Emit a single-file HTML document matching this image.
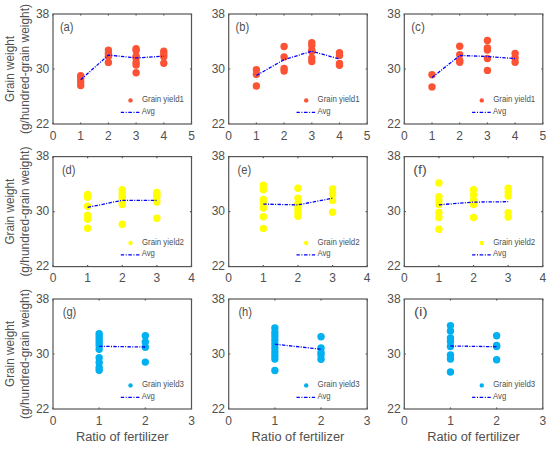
<!DOCTYPE html>
<html><head><meta charset="utf-8"><style>
html,body{margin:0;padding:0;background:#fff;width:550px;height:450px;overflow:hidden}
svg{display:block}
text{font-family:"Liberation Sans",sans-serif}
</style></head><body>
<svg width="550" height="450" viewBox="0 0 550 450">
<rect width="550" height="450" fill="#fff"/>

<text transform="translate(14.2,69) rotate(-90)" text-anchor="middle" font-size="12" fill="#505050" textLength="66" lengthAdjust="spacingAndGlyphs">Grain weight</text>
<text transform="translate(29.3,69) rotate(-90)" text-anchor="middle" font-size="12" fill="#505050" textLength="130" lengthAdjust="spacingAndGlyphs">(g/hundred-grain weight)</text>
<g fill="#FD5335"><circle cx="80.7" cy="75.8" r="3.7"/><circle cx="80.7" cy="78.5" r="3.7"/><circle cx="80.7" cy="82" r="3.7"/><circle cx="80.7" cy="85.5" r="3.7"/><circle cx="108.4" cy="50.1" r="3.7"/><circle cx="108.4" cy="53.5" r="3.7"/><circle cx="108.4" cy="56.3" r="3.7"/><circle cx="108.4" cy="62.4" r="3.7"/><circle cx="136.1" cy="48.6" r="3.7"/><circle cx="136.1" cy="50.5" r="3.7"/><circle cx="136.1" cy="56.3" r="3.7"/><circle cx="136.1" cy="58" r="3.7"/><circle cx="136.1" cy="62.5" r="3.7"/><circle cx="136.1" cy="65" r="3.7"/><circle cx="136.1" cy="72.8" r="3.7"/><circle cx="163.8" cy="51.2" r="3.7"/><circle cx="163.8" cy="54" r="3.7"/><circle cx="163.8" cy="56.8" r="3.7"/><circle cx="163.8" cy="63.3" r="3.7"/></g>
<polyline points="80.7,79.8 108.4,55.1 136.1,57.9 163.8,56.2" fill="none" stroke="#0000FF" stroke-width="1.3" stroke-dasharray="3.4 1.3 1 1.4"/>
<rect x="53" y="14" width="138.5" height="110" fill="none" stroke="#555555" stroke-width="1.2"/>
<path d="M53 124v-1.6M53 14v1.6M80.7 124v-1.6M80.7 14v1.6M108.4 124v-1.6M108.4 14v1.6M136.1 124v-1.6M136.1 14v1.6M163.8 124v-1.6M163.8 14v1.6M191.5 124v-1.6M191.5 14v1.6M53 69h1.6M191.5 69h-1.6" stroke="#555555" stroke-width="1.2" fill="none"/>
<g font-size="12" fill="#505050"><text x="53" y="140.1" text-anchor="middle">0</text><text x="80.7" y="140.1" text-anchor="middle">1</text><text x="108.4" y="140.1" text-anchor="middle">2</text><text x="136.1" y="140.1" text-anchor="middle">3</text><text x="163.8" y="140.1" text-anchor="middle">4</text><text x="191.5" y="140.1" text-anchor="middle">5</text><text x="49.3" y="18.3" text-anchor="end">38</text><text x="49.3" y="73.3" text-anchor="end">30</text><text x="49.3" y="128.3" text-anchor="end">22</text></g>
<text x="59.9" y="31.2" font-size="12" textLength="13.6" lengthAdjust="spacingAndGlyphs" fill="#505050">(a)</text>
<circle cx="130.5" cy="100.4" r="2.2" fill="#FD5335"/>
<text x="141.9" y="102.1" font-size="9.5" fill="#505050" textLength="42" lengthAdjust="spacingAndGlyphs">Grain yield1</text>
<line x1="120.8" y1="112.3" x2="139.4" y2="112.3" stroke="#0000FF" stroke-width="1.3" stroke-dasharray="3.3 1.6 1 1.6 3.6 1.6 1 1.6 3.3 5"/>
<text x="141.7" y="113.8" font-size="9.5" fill="#505050" textLength="13.2" lengthAdjust="spacingAndGlyphs">Avg</text>
<g fill="#FD5335"><circle cx="256.4" cy="69.8" r="3.7"/><circle cx="256.4" cy="74.3" r="3.7"/><circle cx="256.4" cy="86" r="3.7"/><circle cx="284.1" cy="46.5" r="3.7"/><circle cx="284.1" cy="56.9" r="3.7"/><circle cx="284.1" cy="68.5" r="3.7"/><circle cx="284.1" cy="71" r="3.7"/><circle cx="311.8" cy="42.6" r="3.7"/><circle cx="311.8" cy="45.5" r="3.7"/><circle cx="311.8" cy="50" r="3.7"/><circle cx="311.8" cy="51.5" r="3.7"/><circle cx="311.8" cy="58" r="3.7"/><circle cx="311.8" cy="61.6" r="3.7"/><circle cx="339.5" cy="52.6" r="3.7"/><circle cx="339.5" cy="55.4" r="3.7"/><circle cx="339.5" cy="63.5" r="3.7"/><circle cx="339.5" cy="65.2" r="3.7"/></g>
<polyline points="256.4,75.5 284.1,59.6 311.8,51.2 339.5,59" fill="none" stroke="#0000FF" stroke-width="1.3" stroke-dasharray="3.4 1.3 1 1.4"/>
<rect x="228.7" y="14" width="138.5" height="110" fill="none" stroke="#555555" stroke-width="1.2"/>
<path d="M228.7 124v-1.6M228.7 14v1.6M256.4 124v-1.6M256.4 14v1.6M284.1 124v-1.6M284.1 14v1.6M311.8 124v-1.6M311.8 14v1.6M339.5 124v-1.6M339.5 14v1.6M367.2 124v-1.6M367.2 14v1.6M228.7 69h1.6M367.2 69h-1.6" stroke="#555555" stroke-width="1.2" fill="none"/>
<g font-size="12" fill="#505050"><text x="228.7" y="140.1" text-anchor="middle">0</text><text x="256.4" y="140.1" text-anchor="middle">1</text><text x="284.1" y="140.1" text-anchor="middle">2</text><text x="311.8" y="140.1" text-anchor="middle">3</text><text x="339.5" y="140.1" text-anchor="middle">4</text><text x="367.2" y="140.1" text-anchor="middle">5</text><text x="225" y="18.3" text-anchor="end">38</text><text x="225" y="73.3" text-anchor="end">30</text><text x="225" y="128.3" text-anchor="end">22</text></g>
<text x="235.6" y="31.2" font-size="12" textLength="13.6" lengthAdjust="spacingAndGlyphs" fill="#505050">(b)</text>
<circle cx="306.2" cy="100.4" r="2.2" fill="#FD5335"/>
<text x="317.6" y="102.1" font-size="9.5" fill="#505050" textLength="42" lengthAdjust="spacingAndGlyphs">Grain yield1</text>
<line x1="296.5" y1="112.3" x2="315.1" y2="112.3" stroke="#0000FF" stroke-width="1.3" stroke-dasharray="3.3 1.6 1 1.6 3.6 1.6 1 1.6 3.3 5"/>
<text x="317.4" y="113.8" font-size="9.5" fill="#505050" textLength="13.2" lengthAdjust="spacingAndGlyphs">Avg</text>
<g fill="#FD5335"><circle cx="432" cy="74.8" r="3.7"/><circle cx="432" cy="86.9" r="3.7"/><circle cx="459.7" cy="46.2" r="3.7"/><circle cx="459.7" cy="54.6" r="3.7"/><circle cx="459.7" cy="60.5" r="3.7"/><circle cx="459.7" cy="62.2" r="3.7"/><circle cx="487.4" cy="40.5" r="3.7"/><circle cx="487.4" cy="48" r="3.7"/><circle cx="487.4" cy="50.1" r="3.7"/><circle cx="487.4" cy="58.5" r="3.7"/><circle cx="487.4" cy="70.4" r="3.7"/><circle cx="515.1" cy="53.5" r="3.7"/><circle cx="515.1" cy="58" r="3.7"/><circle cx="515.1" cy="62.3" r="3.7"/></g>
<polyline points="432,77.6 459.7,55.5 487.4,56.5 515.1,58.6" fill="none" stroke="#0000FF" stroke-width="1.3" stroke-dasharray="3.4 1.3 1 1.4"/>
<rect x="404.3" y="14" width="138.5" height="110" fill="none" stroke="#555555" stroke-width="1.2"/>
<path d="M404.3 124v-1.6M404.3 14v1.6M432 124v-1.6M432 14v1.6M459.7 124v-1.6M459.7 14v1.6M487.4 124v-1.6M487.4 14v1.6M515.1 124v-1.6M515.1 14v1.6M542.8 124v-1.6M542.8 14v1.6M404.3 69h1.6M542.8 69h-1.6" stroke="#555555" stroke-width="1.2" fill="none"/>
<g font-size="12" fill="#505050"><text x="404.3" y="140.1" text-anchor="middle">0</text><text x="432" y="140.1" text-anchor="middle">1</text><text x="459.7" y="140.1" text-anchor="middle">2</text><text x="487.4" y="140.1" text-anchor="middle">3</text><text x="515.1" y="140.1" text-anchor="middle">4</text><text x="542.8" y="140.1" text-anchor="middle">5</text><text x="400.6" y="18.3" text-anchor="end">38</text><text x="400.6" y="73.3" text-anchor="end">30</text><text x="400.6" y="128.3" text-anchor="end">22</text></g>
<text x="411.2" y="31.2" font-size="12" textLength="13.6" lengthAdjust="spacingAndGlyphs" fill="#505050">(c)</text>
<circle cx="481.8" cy="100.4" r="2.2" fill="#FD5335"/>
<text x="493.2" y="102.1" font-size="9.5" fill="#505050" textLength="42" lengthAdjust="spacingAndGlyphs">Grain yield1</text>
<line x1="472.1" y1="112.3" x2="490.7" y2="112.3" stroke="#0000FF" stroke-width="1.3" stroke-dasharray="3.3 1.6 1 1.6 3.6 1.6 1 1.6 3.3 5"/>
<text x="493" y="113.8" font-size="9.5" fill="#505050" textLength="13.2" lengthAdjust="spacingAndGlyphs">Avg</text>
<text transform="translate(14.2,211.6) rotate(-90)" text-anchor="middle" font-size="12" fill="#505050" textLength="66" lengthAdjust="spacingAndGlyphs">Grain weight</text>
<text transform="translate(29.3,211.6) rotate(-90)" text-anchor="middle" font-size="12" fill="#505050" textLength="130" lengthAdjust="spacingAndGlyphs">(g/hundred-grain weight)</text>
<g fill="#FFFF00"><circle cx="87.62" cy="194.5" r="3.7"/><circle cx="87.62" cy="197.2" r="3.7"/><circle cx="87.62" cy="206.3" r="3.7"/><circle cx="87.62" cy="215.2" r="3.7"/><circle cx="87.62" cy="219.2" r="3.7"/><circle cx="87.62" cy="228.2" r="3.7"/><circle cx="122.25" cy="189.6" r="3.7"/><circle cx="122.25" cy="192.5" r="3.7"/><circle cx="122.25" cy="195.8" r="3.7"/><circle cx="122.25" cy="199" r="3.7"/><circle cx="122.25" cy="201.5" r="3.7"/><circle cx="122.25" cy="204.6" r="3.7"/><circle cx="122.25" cy="224.3" r="3.7"/><circle cx="156.88" cy="192.4" r="3.7"/><circle cx="156.88" cy="195" r="3.7"/><circle cx="156.88" cy="197.5" r="3.7"/><circle cx="156.88" cy="202" r="3.7"/><circle cx="156.88" cy="218.2" r="3.7"/></g>
<polyline points="87.62,207.4 122.25,200.3 156.88,200.4" fill="none" stroke="#0000FF" stroke-width="1.3" stroke-dasharray="3.4 1.3 1 1.4"/>
<rect x="53" y="156.6" width="138.5" height="110" fill="none" stroke="#555555" stroke-width="1.2"/>
<path d="M53 266.6v-1.6M53 156.6v1.6M87.62 266.6v-1.6M87.62 156.6v1.6M122.25 266.6v-1.6M122.25 156.6v1.6M156.88 266.6v-1.6M156.88 156.6v1.6M191.5 266.6v-1.6M191.5 156.6v1.6M53 211.6h1.6M191.5 211.6h-1.6" stroke="#555555" stroke-width="1.2" fill="none"/>
<g font-size="12" fill="#505050"><text x="53" y="281.5" text-anchor="middle">0</text><text x="87.62" y="281.5" text-anchor="middle">1</text><text x="122.25" y="281.5" text-anchor="middle">2</text><text x="156.88" y="281.5" text-anchor="middle">3</text><text x="191.5" y="281.5" text-anchor="middle">4</text><text x="49.3" y="160.2" text-anchor="end">38</text><text x="49.3" y="215.2" text-anchor="end">30</text><text x="49.3" y="270.2" text-anchor="end">22</text></g>
<text x="61.9" y="173.8" font-size="12" textLength="13.6" lengthAdjust="spacingAndGlyphs" fill="#505050">(d)</text>
<circle cx="130.5" cy="243" r="2.2" fill="#FFFF00"/>
<text x="141.9" y="244.7" font-size="9.5" fill="#505050" textLength="42" lengthAdjust="spacingAndGlyphs">Grain yield2</text>
<line x1="120.8" y1="254.9" x2="139.4" y2="254.9" stroke="#0000FF" stroke-width="1.3" stroke-dasharray="3.3 1.6 1 1.6 3.6 1.6 1 1.6 3.3 5"/>
<text x="141.7" y="256.4" font-size="9.5" fill="#505050" textLength="13.2" lengthAdjust="spacingAndGlyphs">Avg</text>
<g fill="#FFFF00"><circle cx="263.32" cy="185.2" r="3.7"/><circle cx="263.32" cy="189.7" r="3.7"/><circle cx="263.32" cy="199.5" r="3.7"/><circle cx="263.32" cy="203" r="3.7"/><circle cx="263.32" cy="208" r="3.7"/><circle cx="263.32" cy="216.8" r="3.7"/><circle cx="263.32" cy="228.4" r="3.7"/><circle cx="297.95" cy="188.3" r="3.7"/><circle cx="297.95" cy="198.2" r="3.7"/><circle cx="297.95" cy="203.5" r="3.7"/><circle cx="297.95" cy="206" r="3.7"/><circle cx="297.95" cy="210" r="3.7"/><circle cx="297.95" cy="213" r="3.7"/><circle cx="297.95" cy="216.2" r="3.7"/><circle cx="332.57" cy="189" r="3.7"/><circle cx="332.57" cy="194" r="3.7"/><circle cx="332.57" cy="200.4" r="3.7"/><circle cx="332.57" cy="212.2" r="3.7"/></g>
<polyline points="263.32,204.1 297.95,204.9 332.57,198.2" fill="none" stroke="#0000FF" stroke-width="1.3" stroke-dasharray="3.4 1.3 1 1.4"/>
<rect x="228.7" y="156.6" width="138.5" height="110" fill="none" stroke="#555555" stroke-width="1.2"/>
<path d="M228.7 266.6v-1.6M228.7 156.6v1.6M263.32 266.6v-1.6M263.32 156.6v1.6M297.95 266.6v-1.6M297.95 156.6v1.6M332.57 266.6v-1.6M332.57 156.6v1.6M367.2 266.6v-1.6M367.2 156.6v1.6M228.7 211.6h1.6M367.2 211.6h-1.6" stroke="#555555" stroke-width="1.2" fill="none"/>
<g font-size="12" fill="#505050"><text x="228.7" y="281.5" text-anchor="middle">0</text><text x="263.32" y="281.5" text-anchor="middle">1</text><text x="297.95" y="281.5" text-anchor="middle">2</text><text x="332.57" y="281.5" text-anchor="middle">3</text><text x="367.2" y="281.5" text-anchor="middle">4</text><text x="225" y="160.2" text-anchor="end">38</text><text x="225" y="215.2" text-anchor="end">30</text><text x="225" y="270.2" text-anchor="end">22</text></g>
<text x="237.6" y="173.8" font-size="12" textLength="13.6" lengthAdjust="spacingAndGlyphs" fill="#505050">(e)</text>
<circle cx="306.2" cy="243" r="2.2" fill="#FFFF00"/>
<text x="317.6" y="244.7" font-size="9.5" fill="#505050" textLength="42" lengthAdjust="spacingAndGlyphs">Grain yield2</text>
<line x1="296.5" y1="254.9" x2="315.1" y2="254.9" stroke="#0000FF" stroke-width="1.3" stroke-dasharray="3.3 1.6 1 1.6 3.6 1.6 1 1.6 3.3 5"/>
<text x="317.4" y="256.4" font-size="9.5" fill="#505050" textLength="13.2" lengthAdjust="spacingAndGlyphs">Avg</text>
<g fill="#FFFF00"><circle cx="438.93" cy="182.9" r="3.7"/><circle cx="438.93" cy="196.6" r="3.7"/><circle cx="438.93" cy="200.5" r="3.7"/><circle cx="438.93" cy="204.5" r="3.7"/><circle cx="438.93" cy="212.5" r="3.7"/><circle cx="438.93" cy="217.5" r="3.7"/><circle cx="438.93" cy="229.3" r="3.7"/><circle cx="473.55" cy="189.8" r="3.7"/><circle cx="473.55" cy="195" r="3.7"/><circle cx="473.55" cy="200.5" r="3.7"/><circle cx="473.55" cy="204.5" r="3.7"/><circle cx="473.55" cy="217.5" r="3.7"/><circle cx="508.18" cy="188.3" r="3.7"/><circle cx="508.18" cy="192" r="3.7"/><circle cx="508.18" cy="196" r="3.7"/><circle cx="508.18" cy="212.8" r="3.7"/><circle cx="508.18" cy="217" r="3.7"/></g>
<polyline points="438.93,204.8 473.55,202.1 508.18,201.7" fill="none" stroke="#0000FF" stroke-width="1.3" stroke-dasharray="3.4 1.3 1 1.4"/>
<rect x="404.3" y="156.6" width="138.5" height="110" fill="none" stroke="#555555" stroke-width="1.2"/>
<path d="M404.3 266.6v-1.6M404.3 156.6v1.6M438.93 266.6v-1.6M438.93 156.6v1.6M473.55 266.6v-1.6M473.55 156.6v1.6M508.18 266.6v-1.6M508.18 156.6v1.6M542.8 266.6v-1.6M542.8 156.6v1.6M404.3 211.6h1.6M542.8 211.6h-1.6" stroke="#555555" stroke-width="1.2" fill="none"/>
<g font-size="12" fill="#505050"><text x="404.3" y="281.5" text-anchor="middle">0</text><text x="438.93" y="281.5" text-anchor="middle">1</text><text x="473.55" y="281.5" text-anchor="middle">2</text><text x="508.18" y="281.5" text-anchor="middle">3</text><text x="542.8" y="281.5" text-anchor="middle">4</text><text x="400.6" y="160.2" text-anchor="end">38</text><text x="400.6" y="215.2" text-anchor="end">30</text><text x="400.6" y="270.2" text-anchor="end">22</text></g>
<text x="413.2" y="173.8" font-size="12" textLength="13.6" lengthAdjust="spacingAndGlyphs" fill="#505050">(f)</text>
<circle cx="481.8" cy="243" r="2.2" fill="#FFFF00"/>
<text x="493.2" y="244.7" font-size="9.5" fill="#505050" textLength="42" lengthAdjust="spacingAndGlyphs">Grain yield2</text>
<line x1="472.1" y1="254.9" x2="490.7" y2="254.9" stroke="#0000FF" stroke-width="1.3" stroke-dasharray="3.3 1.6 1 1.6 3.6 1.6 1 1.6 3.3 5"/>
<text x="493" y="256.4" font-size="9.5" fill="#505050" textLength="13.2" lengthAdjust="spacingAndGlyphs">Avg</text>
<text transform="translate(14.2,354) rotate(-90)" text-anchor="middle" font-size="12" fill="#505050" textLength="66" lengthAdjust="spacingAndGlyphs">Grain weight</text>
<text transform="translate(29.3,354) rotate(-90)" text-anchor="middle" font-size="12" fill="#505050" textLength="130" lengthAdjust="spacingAndGlyphs">(g/hundred-grain weight)</text>
<g fill="#00B0F0"><circle cx="99.17" cy="333.7" r="3.7"/><circle cx="99.17" cy="336.5" r="3.7"/><circle cx="99.17" cy="339.5" r="3.7"/><circle cx="99.17" cy="342.5" r="3.7"/><circle cx="99.17" cy="345.5" r="3.7"/><circle cx="99.17" cy="349.2" r="3.7"/><circle cx="99.17" cy="357.8" r="3.7"/><circle cx="99.17" cy="362.5" r="3.7"/><circle cx="99.17" cy="367.5" r="3.7"/><circle cx="99.17" cy="370.3" r="3.7"/><circle cx="145.33" cy="335.8" r="3.7"/><circle cx="145.33" cy="342" r="3.7"/><circle cx="145.33" cy="347.3" r="3.7"/><circle cx="145.33" cy="362.1" r="3.7"/></g>
<polyline points="99.17,346.3 145.33,347" fill="none" stroke="#0000FF" stroke-width="1.3" stroke-dasharray="3.4 1.3 1 1.4"/>
<rect x="53" y="299" width="138.5" height="110" fill="none" stroke="#555555" stroke-width="1.2"/>
<path d="M53 409v-1.6M53 299v1.6M99.17 409v-1.6M99.17 299v1.6M145.33 409v-1.6M145.33 299v1.6M191.5 409v-1.6M191.5 299v1.6M53 354h1.6M191.5 354h-1.6" stroke="#555555" stroke-width="1.2" fill="none"/>
<g font-size="12" fill="#505050"><text x="53" y="425.1" text-anchor="middle">0</text><text x="99.17" y="425.1" text-anchor="middle">1</text><text x="145.33" y="425.1" text-anchor="middle">2</text><text x="191.5" y="425.1" text-anchor="middle">3</text><text x="49.3" y="303.3" text-anchor="end">38</text><text x="49.3" y="358.3" text-anchor="end">30</text><text x="49.3" y="413.3" text-anchor="end">22</text></g>
<text x="62.7" y="316.2" font-size="12" textLength="13.6" lengthAdjust="spacingAndGlyphs" fill="#505050">(g)</text>
<circle cx="130.5" cy="385.4" r="2.2" fill="#00B0F0"/>
<text x="141.9" y="387.1" font-size="9.5" fill="#505050" textLength="42" lengthAdjust="spacingAndGlyphs">Grain yield3</text>
<line x1="120.8" y1="397.3" x2="139.4" y2="397.3" stroke="#0000FF" stroke-width="1.3" stroke-dasharray="3.3 1.6 1 1.6 3.6 1.6 1 1.6 3.3 5"/>
<text x="141.7" y="398.8" font-size="9.5" fill="#505050" textLength="13.2" lengthAdjust="spacingAndGlyphs">Avg</text>
<text x="122.25" y="441.3" text-anchor="middle" font-size="12" fill="#505050" textLength="92.7" lengthAdjust="spacingAndGlyphs">Ratio of fertilizer</text>
<g fill="#00B0F0"><circle cx="274.87" cy="328" r="3.7"/><circle cx="274.87" cy="332.5" r="3.7"/><circle cx="274.87" cy="336" r="3.7"/><circle cx="274.87" cy="340" r="3.7"/><circle cx="274.87" cy="344" r="3.7"/><circle cx="274.87" cy="348" r="3.7"/><circle cx="274.87" cy="352" r="3.7"/><circle cx="274.87" cy="355.5" r="3.7"/><circle cx="274.87" cy="359" r="3.7"/><circle cx="274.87" cy="370.5" r="3.7"/><circle cx="321.03" cy="336.7" r="3.7"/><circle cx="321.03" cy="348" r="3.7"/><circle cx="321.03" cy="352.5" r="3.7"/><circle cx="321.03" cy="355" r="3.7"/><circle cx="321.03" cy="359.3" r="3.7"/></g>
<polyline points="274.87,344.2 321.03,349.2" fill="none" stroke="#0000FF" stroke-width="1.3" stroke-dasharray="3.4 1.3 1 1.4"/>
<rect x="228.7" y="299" width="138.5" height="110" fill="none" stroke="#555555" stroke-width="1.2"/>
<path d="M228.7 409v-1.6M228.7 299v1.6M274.87 409v-1.6M274.87 299v1.6M321.03 409v-1.6M321.03 299v1.6M367.2 409v-1.6M367.2 299v1.6M228.7 354h1.6M367.2 354h-1.6" stroke="#555555" stroke-width="1.2" fill="none"/>
<g font-size="12" fill="#505050"><text x="228.7" y="425.1" text-anchor="middle">0</text><text x="274.87" y="425.1" text-anchor="middle">1</text><text x="321.03" y="425.1" text-anchor="middle">2</text><text x="367.2" y="425.1" text-anchor="middle">3</text><text x="225" y="303.3" text-anchor="end">38</text><text x="225" y="358.3" text-anchor="end">30</text><text x="225" y="413.3" text-anchor="end">22</text></g>
<text x="238.4" y="316.2" font-size="12" textLength="13.6" lengthAdjust="spacingAndGlyphs" fill="#505050">(h)</text>
<circle cx="306.2" cy="385.4" r="2.2" fill="#00B0F0"/>
<text x="317.6" y="387.1" font-size="9.5" fill="#505050" textLength="42" lengthAdjust="spacingAndGlyphs">Grain yield3</text>
<line x1="296.5" y1="397.3" x2="315.1" y2="397.3" stroke="#0000FF" stroke-width="1.3" stroke-dasharray="3.3 1.6 1 1.6 3.6 1.6 1 1.6 3.3 5"/>
<text x="317.4" y="398.8" font-size="9.5" fill="#505050" textLength="13.2" lengthAdjust="spacingAndGlyphs">Avg</text>
<text x="297.95" y="441.3" text-anchor="middle" font-size="12" fill="#505050" textLength="92.7" lengthAdjust="spacingAndGlyphs">Ratio of fertilizer</text>
<g fill="#00B0F0"><circle cx="450.47" cy="325.6" r="3.7"/><circle cx="450.47" cy="331" r="3.7"/><circle cx="450.47" cy="338" r="3.7"/><circle cx="450.47" cy="341.5" r="3.7"/><circle cx="450.47" cy="346.5" r="3.7"/><circle cx="450.47" cy="355" r="3.7"/><circle cx="450.47" cy="359" r="3.7"/><circle cx="450.47" cy="372" r="3.7"/><circle cx="496.63" cy="335.7" r="3.7"/><circle cx="496.63" cy="345.5" r="3.7"/><circle cx="496.63" cy="346.5" r="3.7"/><circle cx="496.63" cy="359.7" r="3.7"/></g>
<polyline points="450.47,346 496.63,346.7" fill="none" stroke="#0000FF" stroke-width="1.3" stroke-dasharray="3.4 1.3 1 1.4"/>
<rect x="404.3" y="299" width="138.5" height="110" fill="none" stroke="#555555" stroke-width="1.2"/>
<path d="M404.3 409v-1.6M404.3 299v1.6M450.47 409v-1.6M450.47 299v1.6M496.63 409v-1.6M496.63 299v1.6M542.8 409v-1.6M542.8 299v1.6M404.3 354h1.6M542.8 354h-1.6" stroke="#555555" stroke-width="1.2" fill="none"/>
<g font-size="12" fill="#505050"><text x="404.3" y="425.1" text-anchor="middle">0</text><text x="450.47" y="425.1" text-anchor="middle">1</text><text x="496.63" y="425.1" text-anchor="middle">2</text><text x="542.8" y="425.1" text-anchor="middle">3</text><text x="400.6" y="303.3" text-anchor="end">38</text><text x="400.6" y="358.3" text-anchor="end">30</text><text x="400.6" y="413.3" text-anchor="end">22</text></g>
<text x="414" y="316.2" font-size="12" textLength="13.6" lengthAdjust="spacingAndGlyphs" fill="#505050">(i)</text>
<circle cx="481.8" cy="385.4" r="2.2" fill="#00B0F0"/>
<text x="493.2" y="387.1" font-size="9.5" fill="#505050" textLength="42" lengthAdjust="spacingAndGlyphs">Grain yield3</text>
<line x1="472.1" y1="397.3" x2="490.7" y2="397.3" stroke="#0000FF" stroke-width="1.3" stroke-dasharray="3.3 1.6 1 1.6 3.6 1.6 1 1.6 3.3 5"/>
<text x="493" y="398.8" font-size="9.5" fill="#505050" textLength="13.2" lengthAdjust="spacingAndGlyphs">Avg</text>
<text x="473.55" y="441.3" text-anchor="middle" font-size="12" fill="#505050" textLength="92.7" lengthAdjust="spacingAndGlyphs">Ratio of fertilizer</text>
</svg>
</body></html>
